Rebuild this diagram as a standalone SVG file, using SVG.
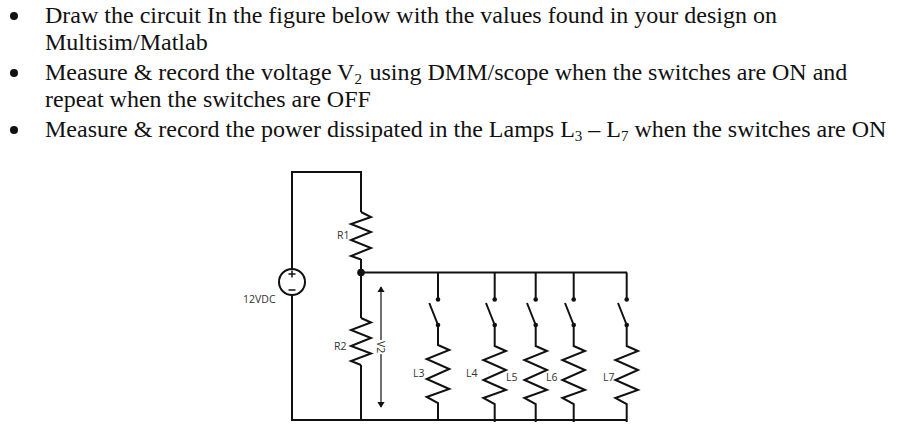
<svg xmlns="http://www.w3.org/2000/svg" width="907" height="445" viewBox="0 0 907 445">
<style>
.t{font-family:"Liberation Serif","Times New Roman",serif;font-size:24px;fill:#111}
.s{font-size:15px}
.l{font-family:"Open Sans","Liberation Sans",sans-serif;font-size:10.500px;fill:#333}
.w{fill:none;stroke:#111;stroke-width:2;stroke-linejoin:miter}
.d{fill:#111}
</style>
<defs>
<marker id="a" viewBox="0 0 8 10" refX="7" refY="5" markerWidth="6" markerHeight="8" markerUnits="userSpaceOnUse" orient="auto-start-reverse"><path d="M0 0L8 5L0 10Z" fill="#111"/></marker>
<g id="lamp"><path class="w" d="M0 0L0 20L11.3 25L-11.3 34L11.3 44L-11.3 54L11.3 64L-11.3 72L0 78L0 96"/></g>
<g id="sw"><circle class="d" cx="0" cy="0" r="2.3"/><circle class="d" cx="0" cy="25.5" r="2.3"/><path class="w" d="M0 -27L0 0M-8.7 3.5L0 25.5"/></g>
</defs>
<g id="text">
<circle class="d" cx="14" cy="16" r="4"/><circle class="d" cx="14" cy="73" r="4"/><circle class="d" cx="14" cy="130" r="4"/>
<text class="t" x="45" y="23" textLength="732">Draw the circuit In the figure below with the values found in your design on</text>
<text class="t" x="45" y="50">Multisim/Matlab</text>
<text class="t" x="45" y="80">Measure &amp; record the voltage V<tspan class="s" dy="4">2</tspan><tspan dy="-4" dx="1.500"> using DMM/scope when the switches are ON and</tspan></text>
<text class="t" x="45" y="107">repeat when the switches are OFF</text>
<text class="t" x="45" y="137">Measure &amp; record the power dissipated in the Lamps L<tspan class="s" dy="4">3</tspan><tspan dy="-4"> – L</tspan><tspan class="s" dy="4">7</tspan><tspan dy="-4"> when the switches are ON</tspan></text>
</g>
<g id="connectors">
<path class="w" d="M292 269L292 172L361 172L361 212M361 259L361 318M361 365L361 420M292 295L292 420L627 420M361 272.5L627 272.5"/>
<path class="w" style="stroke-width:1.2" d="M381 340L381 287" marker-end="url(#a)"/>
<path class="w" style="stroke-width:1.2" d="M381 354L381 407" marker-end="url(#a)"/>
</g>
<g id="source"><circle cx="292" cy="282" r="13" fill="#fff" stroke="#111" stroke-width="2"/><path class="w" style="stroke-width:1.5" d="M288.500 274H295.500M292 270.500V277.500M288.500 290H295.500"/><text class="l" x="243" y="303">12VDC</text></g>
<g id="R1"><path class="w" d="M361 212L371 217L351 224L371 232L351 240L371 248L351 256L361 259.500"/><text class="l" x="337" y="239">R1</text></g>
<g id="node"><circle class="d" cx="361" cy="272.500" r="3.800"/></g>
<g id="R2"><path class="w" d="M361 318L371 322.500L351 330L371 338L351 346L371 353.500L351 361L361 365"/><text class="l" x="334" y="350">R2</text></g>
<g id="V2"><text class="l" transform="translate(377 341) rotate(90)">V2</text></g>
<g id="L3"><use href="#sw" x="438" y="299.500"/><use href="#lamp" x="438" y="325"/><text class="l" x="413" y="377">L3</text></g>
<g id="L4"><use href="#sw" x="494.700" y="299.500"/><use href="#lamp" x="494.700" y="326"/><text class="l" x="466" y="377">L4</text></g>
<g id="L5"><use href="#sw" x="535.700" y="299.500"/><use href="#lamp" x="535.700" y="326"/><text class="l" x="506" y="381">L5</text></g>
<g id="L6"><use href="#sw" x="573.700" y="299.500"/><use href="#lamp" x="573.700" y="326"/><text class="l" x="546" y="381">L6</text></g>
<g id="L7"><use href="#sw" x="626.700" y="299.500"/><use href="#lamp" x="626.700" y="326"/><text class="l" x="603" y="381">L7</text></g>
</svg>
